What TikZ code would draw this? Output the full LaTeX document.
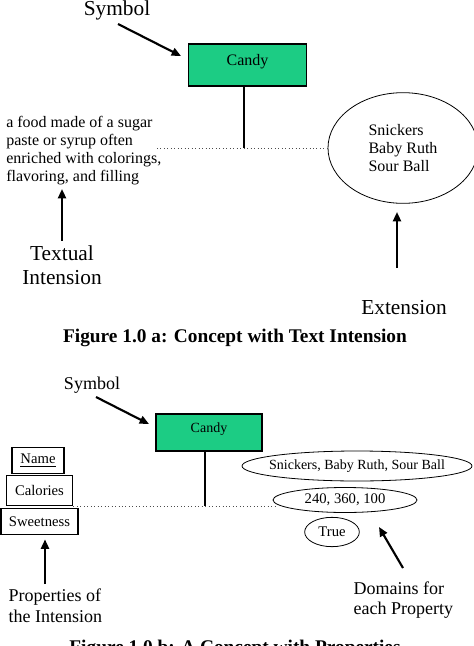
\documentclass[tikz,border=0pt]{standalone}
\usepackage{fontspec}
\setmainfont{Liberation Serif}
\usetikzlibrary{arrows.meta,shapes.geometric}
\definecolor{candygreen}{RGB}{28,204,132}
\newcommand\FontAt[2]{\fontsize{#1}{#2}\selectfont}

\begin{document}
\begin{tikzpicture}[x=0.75pt,y=-0.75pt,
    pointer/.style={line width=1.6pt,-{Triangle[length=7pt,width=6pt]}},
    candybox/.style={draw,fill=candygreen,line width=0.8pt,inner sep=0pt},
    stem/.style={line width=1.6pt},
    link/.style={dotted,line width=0.6pt,gray!60!black},
    domainoval/.style={draw,ellipse,inner sep=0pt,line width=0.6pt},
    propbox/.style={draw,line width=0.9pt,inner sep=0pt,font=\FontAt{11}{13}}]
    \useasboundingbox (0,0) rectangle (474,646);
    \begin{scope} % a
        \node[font=\FontAt{16}{19}] (symbolA) at (117,10) {Symbol};
        \node[candybox,minimum width=89pt,minimum height=31.5pt,text depth=7.5pt,font=\FontAt{12}{14}] (candyA) at (247.5,65) {Candy};
        \coordinate (symbolTailA) at (118,24);
        \coordinate (symbolTipA) at (181,56);
        \draw[pointer] (symbolTailA) -- (symbolTipA);
        \coordinate (jointA) at (244,148);
        \draw[stem] (jointA |- candyA.south) -- (jointA);
        \node[domainoval,minimum width=112.5pt,minimum height=83pt,align=left,font=\FontAt{12}{13.5}] (extA) at (403,148) {Snickers\\Baby Ruth\\Sour Ball};
        \coordinate (dotA) at (157,148);
        \draw[link] (dotA) -- (extA.west);
        \node[anchor=north west,align=left,inner sep=0pt,font=\FontAt{12}{13.5}] (defA) at (6,116) {a food made of a sugar\\paste or syrup often\\enriched with colorings,\\flavoring, and filling};
        \node[align=center,font=\FontAt{16}{18}] (textualA) at (62,265) {Textual\\Intension};
        \coordinate (textualTipA) at (62,189);
        \draw[pointer] (textualA.north) -- (textualTipA);
        \node[font=\FontAt{16}{19}] (extLabelA) at (404,308) {Extension};
        \coordinate (extTailA) at (397,268);
        \coordinate (extTipA) at (397,212);
        \draw[pointer] (extTailA) -- (extTipA);
        \node[font=\bfseries\FontAt{14.5}{17}] (captionA) at (235,338) {Figure 1.0 a: Concept with Text Intension};
    \end{scope}
    \begin{scope} % b
        \node[font=\FontAt{13.5}{16}] (symbolB) at (92,385) {Symbol};
        \node[candybox,minimum width=79.5pt,minimum height=27.75pt,text depth=6.8pt,font=\FontAt{10.5}{12}] (candyB) at (209,432.5) {Candy};
        \coordinate (symbolTailB) at (96,397);
        \coordinate (symbolTipB) at (149,424);
        \draw[pointer] (symbolTailB) -- (symbolTipB);
        \coordinate (jointB) at (205,506);
        \draw[stem] (jointB |- candyB.south) -- (jointB);
        \node[propbox,minimum width=39pt,minimum height=20pt] (nameB) at (38,460.5) {\underline{Name}};
        \node[propbox,minimum width=50pt,minimum height=22pt] (calB) at (39.5,490.5) {Calories};
        \node[propbox,minimum width=57.75pt,minimum height=20pt] (sweetnessB) at (39.5,521.5) {Sweetness};
        \node[domainoval,inner xsep=-30pt,minimum width=172.5pt,minimum height=22.5pt,font=\FontAt{10.5}{12}] (brandsB) at (357,466) {Snickers, Baby Ruth, Sour Ball};
        \node[domainoval,minimum width=108pt,minimum height=18.75pt,font=\FontAt{11}{13}] (caloriesB) at (345,500) {240, 360, 100};
        \node[domainoval,minimum width=41pt,minimum height=22pt,font=\FontAt{11}{13}] (trueB) at (332,532) {True};
        \coordinate (dotEndB) at (276,506);
        \draw[link] (calB.east |- jointB) -- (dotEndB);
        \node[anchor=west,align=left,font=\FontAt{13.5}{16}] (propLabelB) at (4,606) {Properties of\\the Intension};
        \coordinate (propTailB) at (45,584);
        \draw[pointer,shorten >=3pt] (propTailB) -- (propTailB |- sweetnessB.south);
        \node[anchor=west,align=left,font=\FontAt{13.5}{15.5}] (domainLabelB) at (349,600) {Domains for\\each Property};
        \coordinate (domainTailB) at (403,568);
        \coordinate (domainTipB) at (379,527);
        \draw[pointer] (domainTailB) -- (domainTipB);
        \node[font=\bfseries\FontAt{14.5}{17}] (captionB) at (235,649) {Figure 1.0 b: A Concept with Properties};
    \end{scope}
\end{tikzpicture}
\end{document}
